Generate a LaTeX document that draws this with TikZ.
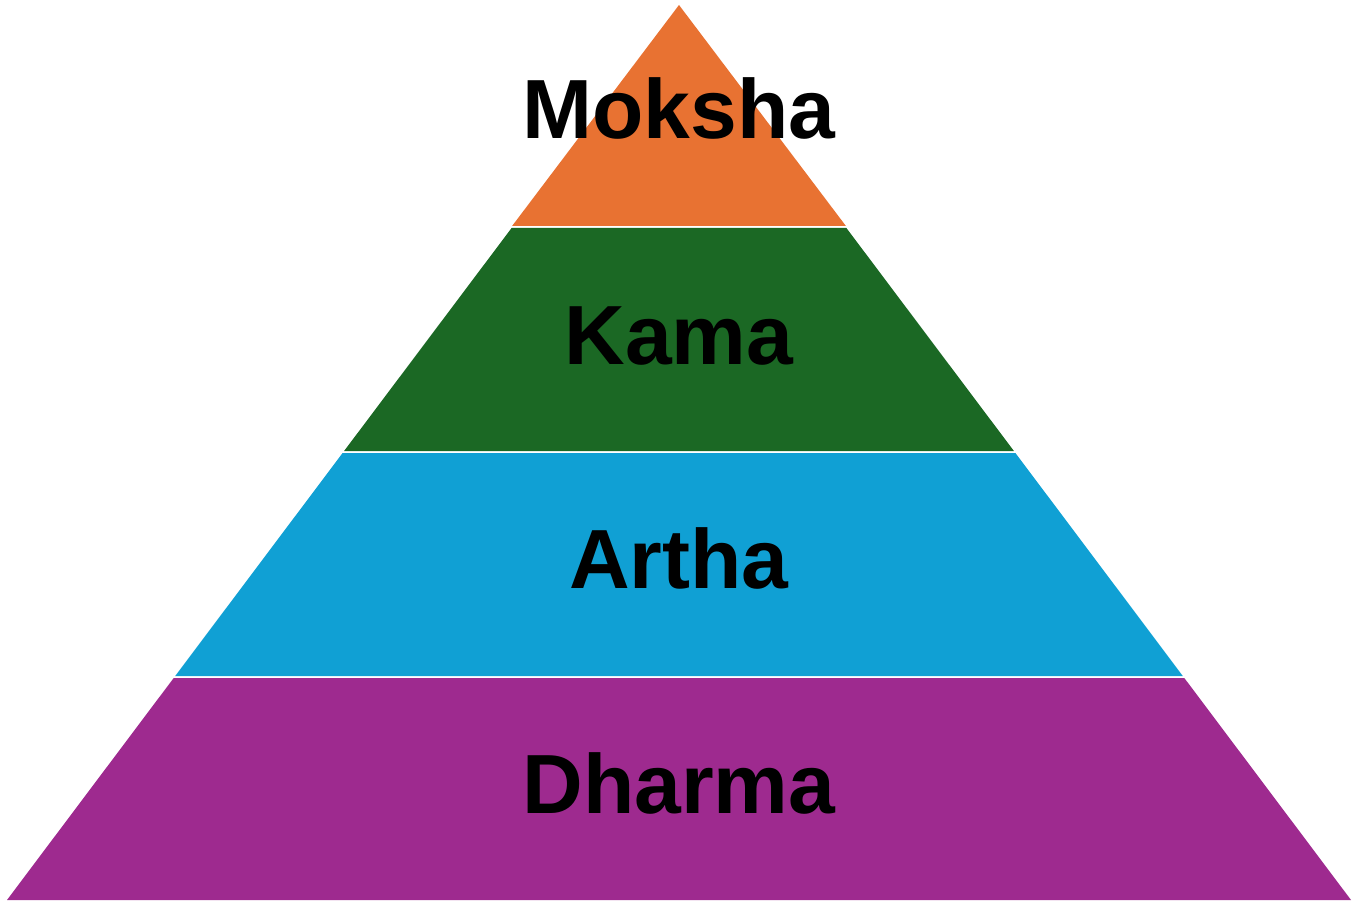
\documentclass[tikz,border=0pt]{standalone}
\usepackage{fontspec}
\setmainfont{Liberation Sans}
\usepackage{xcolor}
\usepackage{tikz}
\definecolor{moksha}{RGB}{232,114,50}
\definecolor{kama}{RGB}{27,104,36}
\definecolor{artha}{RGB}{16,160,212}
\definecolor{dharma}{RGB}{158,42,143}
\begin{document}
\begin{tikzpicture}[
  x=1pt,y=-1pt,
  lbl/.style={font=\fontsize{84}{84}\selectfont\bfseries,anchor=base,inner sep=0pt}
]
\useasboundingbox (0,0) rectangle (1358,904);
% layers, top to bottom
\fill[moksha] (679,5) -- (845.9,226) -- (512.1,226) -- cycle;
\fill[kama] (511.6,228) -- (846.4,228) -- (1013.9,451) -- (344.1,451) -- cycle;
\fill[artha] (342.6,453) -- (1015.4,453) -- (1182.8,676) -- (175.2,676) -- cycle;
\fill[dharma] (173.7,678) -- (1184.3,678) -- (1351,900) -- (7,900) -- cycle;

\node[lbl] (moksha) at (679,139) {Moksha};
\node[lbl] (kama) at (679,364) {Kama};
\node[lbl] (artha) at (679,588) {Artha};
\node[lbl] (dharma) at (679,813) {Dharma};
\end{tikzpicture}
\end{document}
